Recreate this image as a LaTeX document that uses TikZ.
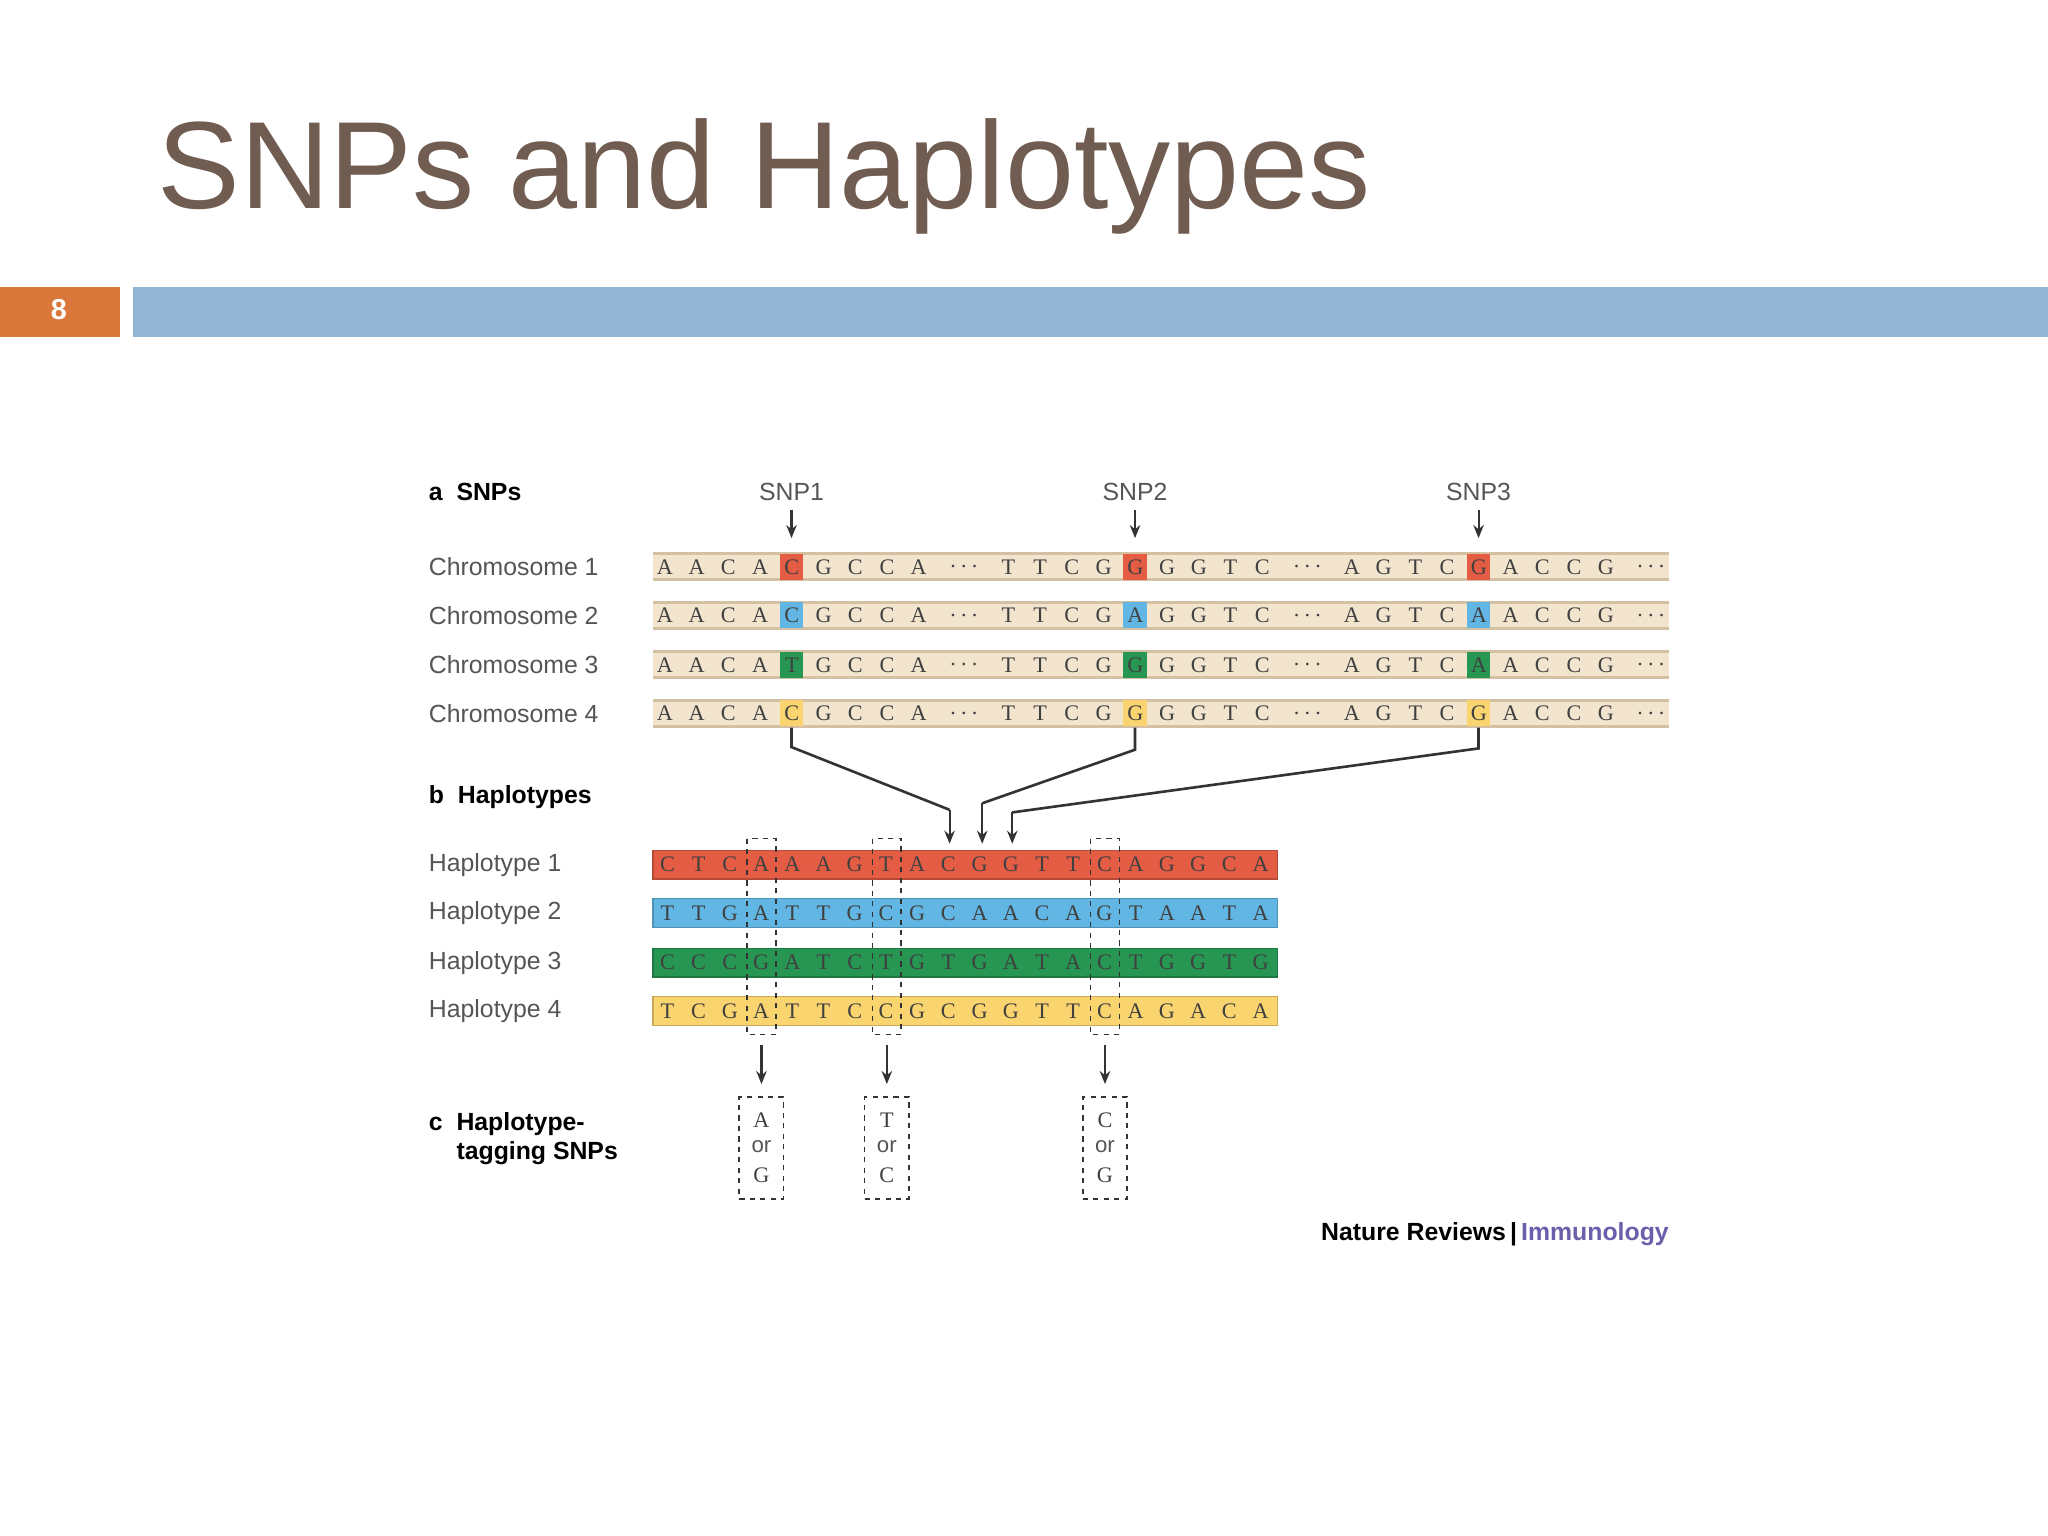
\documentclass[tikz,border=0pt]{standalone}
\usepackage{fontspec}
\setmainfont{Liberation Sans}
\newfontfamily\seqfont{Liberation Serif}
\usetikzlibrary{arrows.meta}
\definecolor{titlec}{RGB}{112,92,80}
\definecolor{orangeb}{RGB}{218,120,60}
\definecolor{blueb}{RGB}{147,181,212}
\definecolor{beige}{RGB}{242,228,205}
\definecolor{beiged}{RGB}{212,192,162}
\definecolor{snpred}{RGB}{228,92,68}
\definecolor{snpblue}{RGB}{98,182,228}
\definecolor{snpgreen}{RGB}{38,150,82}
\definecolor{snpyel}{RGB}{250,212,110}
\definecolor{txtg}{RGB}{85,85,85}
\definecolor{purp}{RGB}{105,95,170}
\tikzset{
  seq/.style={font=\seqfont\fontsize{8.5}{9}\selectfont, text=black!75, inner sep=0pt},
  lab/.style={anchor=west, font=\fontsize{9.5}{11}\selectfont, text=txtg, inner sep=0pt},
  head/.style={anchor=west, font=\bfseries\fontsize{9.5}{11}\selectfont, inner sep=0pt},
  arr/.style={-{Stealth[length=5pt,width=4pt]}, line width=0.8pt, black!80},
  conn/.style={line width=1pt, black!80},
  dbox/.style={dash pattern=on 2pt off 2pt, line width=0.6pt, black!80},
}
\newcommand{\chromseg}[3]{\foreach \c [count=\i from 0] in {#3} {\node[seq] at ({#1+\i*24.3},#2) {\c};}}
\begin{document}
\begin{tikzpicture}[x=0.5pt,y=-0.5pt]
\useasboundingbox (0,0) rectangle (1568,1176);
\fill[white] (0,0) rectangle (1568,1176);
% header
\node[anchor=base west, font=\fontsize{47.5}{54}\selectfont, text=titlec, inner sep=0pt] (title) at (120,160) {SNPs and Haplotypes};
\fill[orangeb] (0,220) rectangle (92,258);
\node[font=\bfseries\fontsize{11}{12}\selectfont, text=white] (pnum) at (45,237) {8};
\fill[blueb] (102,220) rectangle (1568,258);
% section labels
\node[head] (ha) at (328,377) {a\ \ SNPs};
\node[head] (hb) at (328,610) {b\ \ Haplotypes};
\node[head, align=left] (hc) at (328,872) {c\ \ Haplotype-\\\phantom{c\ \ }tagging SNPs};
% SNP labels
\foreach \n/\x in {1/606,2/869,3/1132}{
  \node[font=\fontsize{9.5}{11}\selectfont, text=txtg] (snp\n) at (\x,377) {SNP\n};
  \coordinate (snpt\n) at (\x,412);
  \draw[arr] (snp\n.south) -- (snpt\n);
}
% chromosome rows
\foreach \r/\y/\col/\sa/\sb/\sc in {1/434/snpred/C/G/G, 2/471/snpblue/C/A/A, 3/509/snpgreen/T/G/A, 4/546/snpyel/C/G/G}{
  \node[lab] (chr\r) at (328,\y) {Chromosome \r};
  \fill[beige] (500,\y-10) rectangle (1278,\y+10);
  \draw[beiged, line width=1.2pt] (500,\y-10) -- (1278,\y-10) (500,\y+10) -- (1278,\y+10);
  \foreach \x in {606,869,1132}{\fill[\col] (\x-9,\y-10) rectangle (\x+9,\y+10);}
  \chromseg{509}{\y}{A,A,C,A,\sa,G,C,C,A}
  \chromseg{772}{\y}{T,T,C,G,\sb,G,G,T,C}
  \chromseg{1035}{\y}{A,G,T,C,\sc,A,C,C,G}
  \foreach \x in {738,1001,1264}{\node[seq] at (\x,\y) {.\kern2pt.\kern2pt.};}
}
% connectors to haplotypes
\coordinate (c1a) at (606,557); \coordinate (c1b) at (606,572); \coordinate (c1c) at (727,620); \coordinate (c1d) at (727,646);
\coordinate (c2a) at (869,557); \coordinate (c2b) at (869,574); \coordinate (c2c) at (752,615); \coordinate (c2d) at (752,646);
\coordinate (c3a) at (1132,557); \coordinate (c3b) at (1132,573); \coordinate (c3c) at (775,622); \coordinate (c3d) at (775,646);
\foreach \k in {1,2,3}{\draw[conn] (c\k a) -- (c\k b) -- (c\k c); \draw[arr] (c\k c) -- (c\k d);}
% haplotypes
\foreach \r/\y/\col/\s in {1/662/snpred/{C,T,C,A,A,A,G,T,A,C,G,G,T,T,C,A,G,G,C,A},
                           2/699/snpblue/{T,T,G,A,T,T,G,C,G,C,A,A,C,A,G,T,A,A,T,A},
                           3/737/snpgreen/{C,C,C,G,A,T,C,T,G,T,G,A,T,A,C,T,G,G,T,G},
                           4/774/snpyel/{T,C,G,A,T,T,C,C,G,C,G,G,T,T,C,A,G,A,C,A}}{
  \node[lab] (hap\r) at (328,\y) {Haplotype \r};
  \fill[\col] (500,\y-11) rectangle (978,\y+11);
  \draw[\col!80!black, line width=0.5pt] (500,\y-11) rectangle (978,\y+11);
  \foreach \c [count=\i from 0] in \s {\node[seq] at ({511+\i*23.9},\y) {\c};}
}
% dashed boxes and tags
\foreach \k/\x/\a/\b in {1/583/A/G,2/679/T/C,3/846/C/G}{
  \draw[dbox] (\x-11,642) rectangle (\x+11,792);
  \coordinate (ta\k) at (\x,800);
  \node[draw, dbox, minimum width=17pt, minimum height=39pt, inner sep=0pt] (tag\k) at (\x,879) {};
  \draw[arr] (ta\k) -- (tag\k.north |- 0,830);
  \node[seq] at (\x,858) {\a};
  \node[font=\fontsize{8.5}{9}\selectfont, text=txtg] at (\x,878) {or};
  \node[seq] at (\x,900) {\b};
}
\node[anchor=east, font=\bfseries\fontsize{9.5}{11}\selectfont, inner sep=0pt] (nr) at (1278,945) {Nature Reviews\,|\,\textcolor{purp}{Immunology}};
\end{tikzpicture}
\end{document}
